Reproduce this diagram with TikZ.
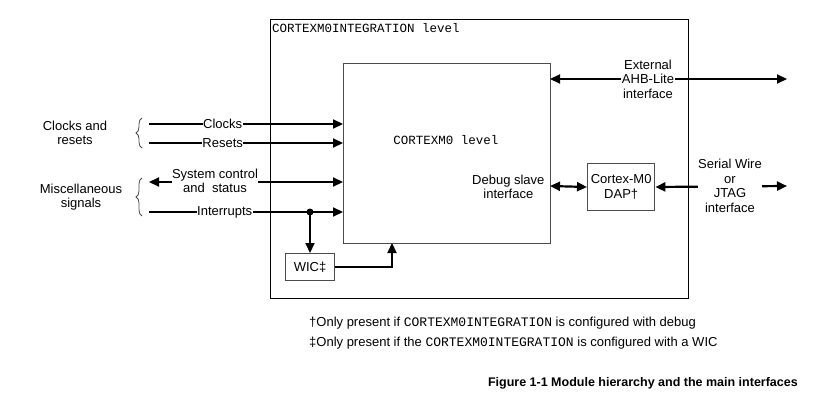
\documentclass[tikz,border=0pt]{standalone}
\usepackage{fontspec}
\setmainfont{Liberation Sans}
\setmonofont{Liberation Mono}
\usetikzlibrary{decorations.pathreplacing,arrows.meta}
\begin{document}
\begin{tikzpicture}[x=1pt,y=-1pt,font=\fontsize{13}{14.5}\selectfont,
  box/.style={draw=black!70,line width=1pt,fill=white},
  sig/.style={line width=2.2pt,-{Triangle[length=10pt,width=9pt]}},
  dsig/.style={line width=2.2pt,{Triangle[length=10pt,width=9pt]}-{Triangle[length=10pt,width=9pt]}},
  lab/.style={fill=white,inner sep=0.5pt,align=center},
  br/.style={decorate,decoration={brace,amplitude=6pt},draw=black!70,line width=0.8pt}]
\useasboundingbox (0,0) rectangle (836,404);
\draw[line width=1pt] (270,20) rectangle (688,298);
\node[anchor=north west,inner sep=1pt,font=\ttfamily\fontsize{12.5}{14}\selectfont] (outl) at (271,22) {CORTEXM0INTEGRATION level};
\node[box,minimum width=207pt,minimum height=180pt,anchor=north west] (core) at (343,63) {};
\node[font=\ttfamily\fontsize{12.5}{14}\selectfont] (corel) at (446,140) {CORTEXM0 level};
\node[box,minimum width=49pt,minimum height=27pt,anchor=north west] (wic) at (285,253) {WIC‡};
\node[box,minimum width=61pt,minimum height=47pt,anchor=north west,align=center] (dap) at (587,163) {Cortex-M0\\DAP†};
\node[align=center,anchor=east] (dbg) at (548,187) {Debug slave\\interface};
% left signals
\coordinate (c0) at (149,124); \coordinate (c1) at (343,124);
\coordinate (r0) at (149,143); \coordinate (r1) at (343,143);
\coordinate (s0) at (149,182); \coordinate (s1) at (343,182);
\coordinate (i0) at (149,212); \coordinate (i1) at (343,212);
\coordinate (dot) at (310,212);
\draw[sig] (c0) -- node[lab,pos=0.38]{Clocks} (c1);
\draw[sig] (r0) -- node[lab,pos=0.38]{Resets} (r1);
\draw[sig] (215,182) -- (s0);
\draw[sig] (205,182) -- (s1);
\node[lab,fill=white] (sc) at (215,181) {System control\\and\ \ status};
\draw[sig] (i0) -- node[lab,pos=0.39]{Interrupts} (i1);
\fill (dot) circle (3.5pt);
\draw[sig] (dot) -- (wic.north -| dot);
\draw[sig] (wic.east) -| (392,243);
\draw[dsig] (550,186) -- (dap.west);
% right
\draw[dsig] (550,79) -- (787,79);
\node[lab,fill=white] (ext) at (648,79) {External\\AHB-Lite\\interface};
\draw[dsig] (dap.east) -- (787,186);
\node[lab,fill=white] (sw) at (730,186) {Serial Wire\\or\\JTAG\\interface};
% braces
\draw[br] (142,148) -- (142,118);
\node[align=center] (cr) at (75,133) {Clocks and\\resets};
\draw[br] (142,216) -- (142,178);
\node[align=center] (ms) at (81,197) {Miscellaneous\\signals};
% footnotes
\node[anchor=west,inner sep=0] (f1) at (309,323) {†Only present if \texttt{CORTEXM0INTEGRATION} is configured with debug};
\node[anchor=west,inner sep=0] (f2) at (309,343) {‡Only present if the \texttt{CORTEXM0INTEGRATION} is configured with a WIC};
\node[anchor=east,inner sep=0,font=\bfseries\fontsize{12.5}{14}\selectfont] (cap) at (798,383) {Figure 1-1 Module hierarchy and the main interfaces};
\end{tikzpicture}
\end{document}
